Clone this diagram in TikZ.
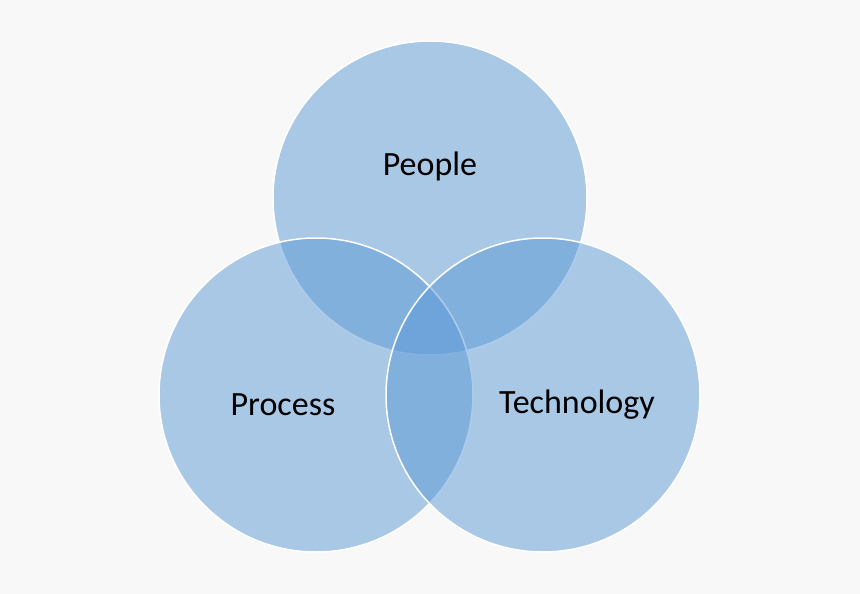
\documentclass[tikz,border=0pt]{standalone}
\usepackage{fontspec}
\setmainfont{Carlito}
\definecolor{bg}{RGB}{248,248,248}
\definecolor{cf}{RGB}{92,153,214}
\begin{document}
\begin{tikzpicture}[x=1pt,y=-1pt,
  vc/.style={circle,minimum size=314pt,inner sep=0pt,fill=cf,fill opacity=0.5,draw=white,line width=1.5pt},
  lbl/.style={font=\fontsize{34}{40}\selectfont,text=black}]
\fill[bg] (0,0) rectangle (860,594);
\node[vc] (people) at (430,198) {};
\node[vc] (process) at (316,395) {};
\node[vc] (tech) at (543,395) {};
\node[lbl] (tp) at (430,166) {People};
\node[lbl] (tr) at (283,405) {Process};
\node[lbl] (tt) at (577,405) {Technology};
\end{tikzpicture}
\end{document}
